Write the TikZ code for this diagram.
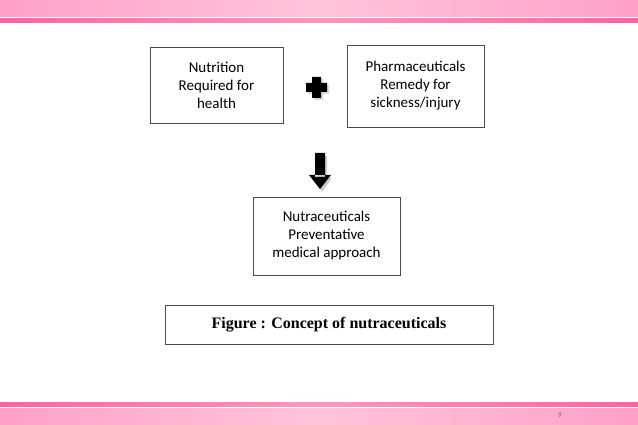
\documentclass[tikz,border=0pt]{standalone}
\usepackage{fontspec}
\setmainfont{Carlito}
\newfontfamily\capfont{Liberation Serif}
\begin{document}
\begin{tikzpicture}[x=1pt,y=-1pt,
  box/.style={draw=black!70,line width=0.6pt,align=center,font=\fontsize{15}{18}\selectfont,inner sep=0pt}]
\useasboundingbox (0,0) rectangle (638,425);
\definecolor{pE}{RGB}{255,160,200}\definecolor{pM}{RGB}{255,195,220}
\definecolor{lE}{RGB}{255,100,160}\definecolor{lM}{RGB}{255,150,190}
\shade[left color=pE,right color=pE,middle color=pM] (0,0) rectangle (638,17);
\shade[left color=lE,right color=lE,middle color=lM] (0,19) rectangle (638,23);
\shade[left color=lE,right color=lE,middle color=lM] (0,402) rectangle (638,406);
\shade[left color=pE,right color=pE,middle color=pM] (0,408) rectangle (638,425);
\node[font=\fontsize{7}{8}\selectfont,text=black!60] (pg) at (560,415) {9};
\node[box,minimum width=133,minimum height=76] (a) at (216.5,85) {Nutrition\\Required for\\health};
\node[box,minimum width=137,minimum height=82] (b) at (415.5,86) {Pharmaceuticals\\Remedy for\\sickness/injury};
\node[box,minimum width=147,minimum height=78] (c) at (326.5,236) {Nutraceuticals\\Preventative\\medical approach};
\node[draw=black!70,line width=0.6pt,minimum width=328,minimum height=39,font=\capfont\bfseries\fontsize{16}{19}\selectfont] (f) at (329,324.5) {Figure : Concept of nutraceuticals};
\node[fill=black,draw=black!20,line width=1pt,minimum width=0,inner sep=0pt] (plus) at (318,88) {};
\fill[black!15] (314,79) -- ++(9,0) -- ++(0,6) -- ++(6,0) -- ++(0,9) -- ++(-6,0) -- ++(0,6) -- ++(-9,0) -- ++(0,-6) -- ++(-6,0) -- ++(0,-9) -- ++(6,0) -- cycle;
\fill[black] (312,77) -- ++(9,0) -- ++(0,6) -- ++(6,0) -- ++(0,9) -- ++(-6,0) -- ++(0,6) -- ++(-9,0) -- ++(0,-6) -- ++(-6,0) -- ++(0,-9) -- ++(6,0) -- cycle;
\coordinate (t) at (320,153);
\fill[black!20] (317,156) rectangle (327,180) (312,178) -- (332,178) -- (322,192) -- cycle;
\fill[black] (t) ++(-5,0) rectangle ++(10,24) (309,175) -- (331,175) -- (320,189) -- cycle;
\end{tikzpicture}
\end{document}
